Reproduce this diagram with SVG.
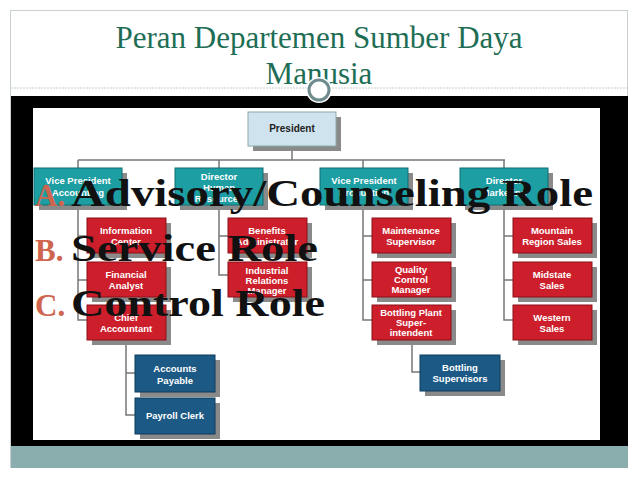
<svg xmlns="http://www.w3.org/2000/svg" width="638" height="478" viewBox="0 0 638 478">
<defs>
<style>
.t{font-family:"Liberation Sans",Arial,sans-serif;font-weight:bold;font-size:9.5px;fill:#fff;text-anchor:middle}
.tp{font-family:"Liberation Sans",Arial,sans-serif;font-weight:bold;font-size:10px;fill:#222;text-anchor:middle}
.sh{fill:#8a8a8a}
.teal{fill:#1d9ea3;stroke:#0e6d70;stroke-width:1}
.red{fill:#cc1f2b;stroke:#8a1118;stroke-width:1}
.blue{fill:#1c5a85;stroke:#0f3b5a;stroke-width:1}
.ln{stroke:#777;stroke-width:1.5;fill:none}
.big{font-family:"Liberation Serif","Times New Roman",serif;font-weight:bold;font-size:38px;fill:#111}
.let{font-family:"Liberation Serif","Times New Roman",serif;font-weight:bold;font-size:31px;fill:#d0654f}
</style>
</defs>
<rect width="638" height="478" fill="#fff"/>
<rect x="10.5" y="10.5" width="617" height="457" fill="#fff" stroke="#c8d0d4"/>
<line x1="11" y1="88" x2="627" y2="88" stroke="#c8cccc" stroke-dasharray="2,1"/>
<g font-family="Liberation Serif,'Times New Roman',serif" font-size="31" fill="#1e6e55" text-anchor="middle">
<text x="319" y="48">Peran Departemen Sumber Daya</text>
<text x="319" y="84">Manusia</text>
</g>
<rect x="11" y="96" width="617" height="350" fill="#000"/>
<rect x="33" y="108" width="567" height="332" fill="#fff"/>
<rect x="11" y="446" width="617" height="22" fill="#8aaeae"/>
<circle cx="319" cy="90" r="13" fill="#fff"/>
<circle cx="319" cy="90" r="10" fill="none" stroke="#6e8c8e" stroke-width="3"/>
<g id="connectors" class="ln">
<path d="M292 146V160M78 160H505M78 160V168M219 160V168M363 160V168M504 160V168"/>
<path d="M78 205V320H87M78 236H87M78 280H87"/>
<path d="M126 340V415H135M126 373H135"/>
<path d="M219 205V275H228M219 236H228"/>
<path d="M363 205V320H372M363 236H372M363 280H372"/>
<path d="M412 340V372H420"/>
<path d="M504 205V320H513M504 236H513M504 280H513"/>
</g>
<g id="president"><rect class="sh" x="253" y="117" width="88" height="34"/><rect x="248" y="112" width="88" height="34" fill="#cfe3ef" stroke="#8aa" /><text class="tp" x="292" y="132">President</text></g>
<g id="vpacc"><rect class="sh" x="39" y="173" width="88" height="37"/><rect class="teal" x="34" y="168" width="88" height="37"/><text class="t" x="78" y="184">Vice President</text><text class="t" x="78" y="196">Accounting</text></g>
<g id="dirhr"><rect class="sh" x="180" y="173" width="88" height="37"/><rect class="teal" x="175" y="168" width="88" height="37"/><text class="t" x="219" y="180">Director</text><text class="t" x="219" y="191">Human</text><text class="t" x="219" y="202">Resources</text></g>
<g id="vpprod"><rect class="sh" x="325" y="173" width="88" height="37"/><rect class="teal" x="320" y="168" width="88" height="37"/><text class="t" x="364" y="184">Vice President</text><text class="t" x="364" y="196">Production</text></g>
<g id="dirmkt"><rect class="sh" x="465" y="173" width="88" height="37"/><rect class="teal" x="460" y="168" width="88" height="37"/><text class="t" x="504" y="184">Director</text><text class="t" x="504" y="196">Marketing</text></g>
<g id="infocenter"><rect class="sh" x="92" y="223" width="79" height="35"/><rect class="red" x="87" y="218" width="79" height="35"/><text class="t" x="126" y="234">Information</text><text class="t" x="126" y="245">Center</text></g>
<g id="finanalyst"><rect class="sh" x="92" y="267" width="79" height="35"/><rect class="red" x="87" y="262" width="79" height="35"/><text class="t" x="126" y="278">Financial</text><text class="t" x="126" y="289">Analyst</text></g>
<g id="chiefacc"><rect class="sh" x="92" y="310" width="79" height="35"/><rect class="red" x="87" y="305" width="79" height="35"/><text class="t" x="126" y="321">Chief</text><text class="t" x="126" y="332">Accountant</text></g>
<g id="accpay"><rect class="sh" x="140" y="360" width="80" height="37"/><rect class="blue" x="135" y="355" width="80" height="37"/><text class="t" x="175" y="372">Accounts</text><text class="t" x="175" y="384">Payable</text></g>
<g id="payroll"><rect class="sh" x="140" y="403" width="80" height="36"/><rect class="blue" x="135" y="398" width="80" height="36"/><text class="t" x="175" y="419">Payroll Clerk</text></g>
<g id="benefits"><rect class="sh" x="233" y="223" width="79" height="35"/><rect class="red" x="228" y="218" width="79" height="35"/><text class="t" x="267" y="234">Benefits</text><text class="t" x="267" y="245">Administrator</text></g>
<g id="indrel"><rect class="sh" x="233" y="267" width="79" height="35"/><rect class="red" x="228" y="262" width="79" height="35"/><text class="t" x="267" y="274">Industrial</text><text class="t" x="267" y="284">Relations</text><text class="t" x="267" y="294">Manager</text></g>
<g id="maint"><rect class="sh" x="377" y="223" width="79" height="35"/><rect class="red" x="372" y="218" width="79" height="35"/><text class="t" x="411" y="234">Maintenance</text><text class="t" x="411" y="245">Supervisor</text></g>
<g id="qc"><rect class="sh" x="377" y="267" width="79" height="35"/><rect class="red" x="372" y="262" width="79" height="35"/><text class="t" x="411" y="273">Quality</text><text class="t" x="411" y="283">Control</text><text class="t" x="411" y="293">Manager</text></g>
<g id="bottling"><rect class="sh" x="377" y="310" width="79" height="35"/><rect class="red" x="372" y="305" width="79" height="35"/><text class="t" x="411" y="316">Bottling Plant</text><text class="t" x="411" y="326">Super-</text><text class="t" x="411" y="336">intendent</text></g>
<g id="bottsup"><rect class="sh" x="425" y="360" width="80" height="36"/><rect class="blue" x="420" y="355" width="80" height="36"/><text class="t" x="460" y="371">Bottling</text><text class="t" x="460" y="382">Supervisors</text></g>
<g id="mountain"><rect class="sh" x="518" y="223" width="79" height="35"/><rect class="red" x="513" y="218" width="79" height="35"/><text class="t" x="552" y="234">Mountain</text><text class="t" x="552" y="245">Region Sales</text></g>
<g id="midstate"><rect class="sh" x="518" y="267" width="79" height="35"/><rect class="red" x="513" y="262" width="79" height="35"/><text class="t" x="552" y="278">Midstate</text><text class="t" x="552" y="289">Sales</text></g>
<g id="western"><rect class="sh" x="518" y="310" width="79" height="35"/><rect class="red" x="513" y="305" width="79" height="35"/><text class="t" x="552" y="321">Western</text><text class="t" x="552" y="332">Sales</text></g>
<g id="roles">
<text class="let" x="35" y="206">A.</text><text class="big" x="71" y="206" textLength="522" lengthAdjust="spacingAndGlyphs">Advisory/Counseling Role</text>
<text class="let" x="35" y="261">B.</text><text class="big" x="71" y="261" textLength="247" lengthAdjust="spacingAndGlyphs">Service Role</text>
<text class="let" x="35" y="316">C.</text><text class="big" x="71" y="316" textLength="254" lengthAdjust="spacingAndGlyphs">Control Role</text>
</g>
</svg>
